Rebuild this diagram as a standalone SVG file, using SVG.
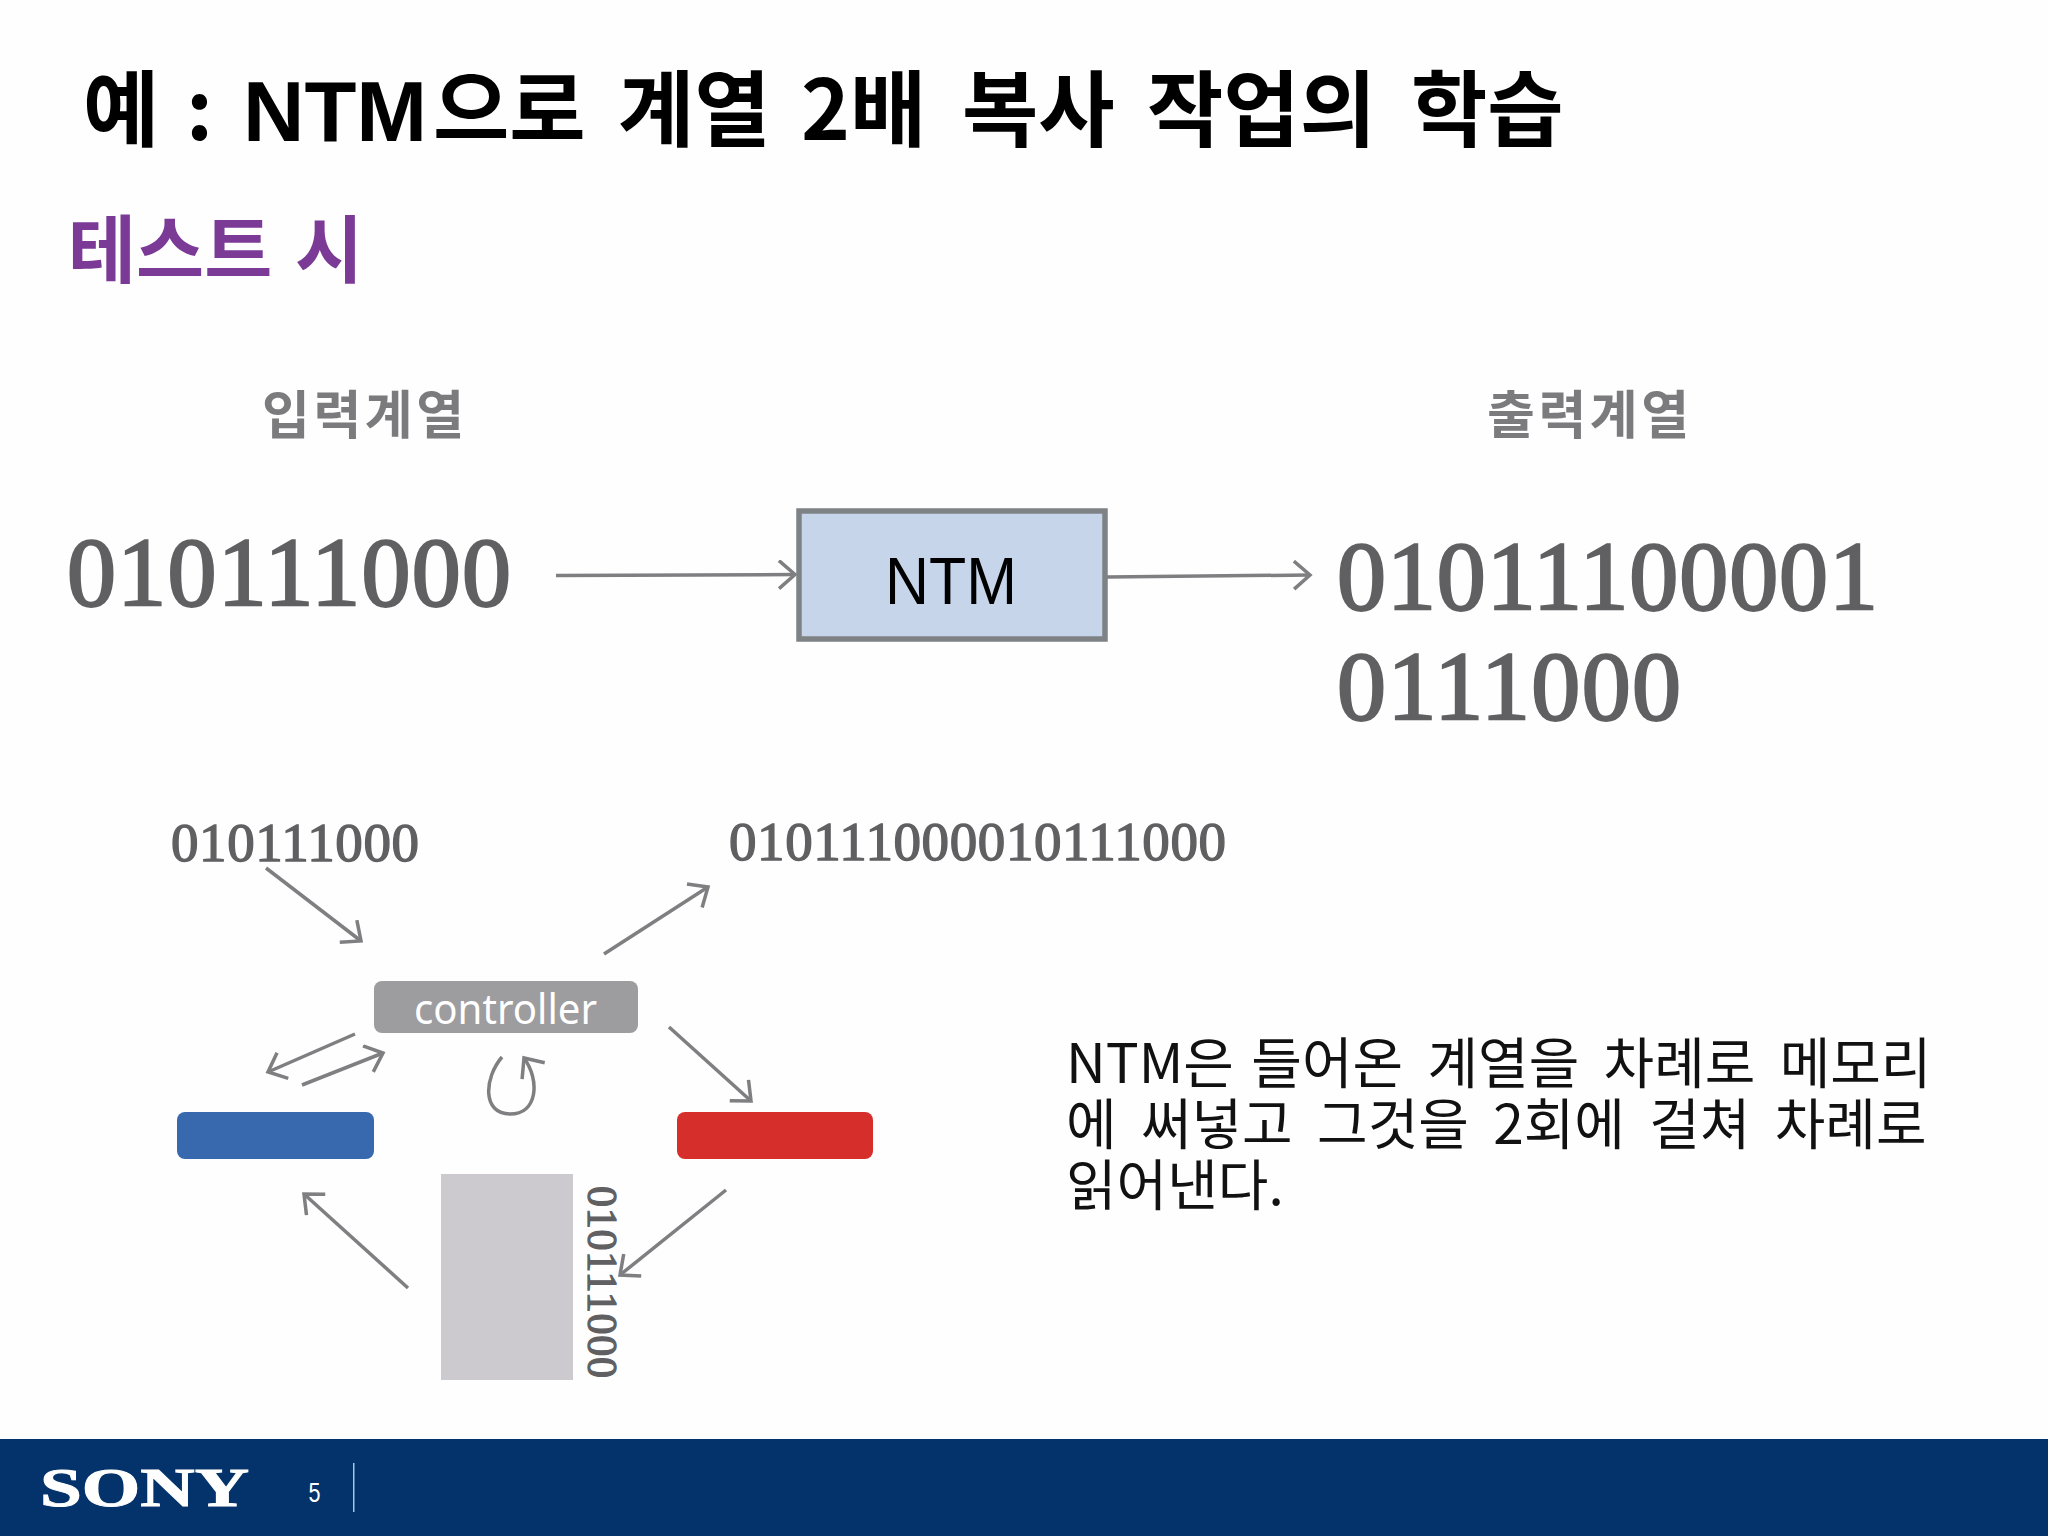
<svg xmlns="http://www.w3.org/2000/svg" width="2048" height="1537" viewBox="0 0 2048 1537">
<style>
.k{font-family:"Noto Sans CJK KR","Noto Sans",sans-serif}
.s{font-family:"Liberation Serif",serif;fill:#606062;stroke:#606062;stroke-width:2.400px}
.big{font-size:98px}
.mid{font-size:55px;stroke-width:1.400px}
.ver{font-size:42px;stroke-width:1.300px}
.lab{font-size:52px;font-weight:700;fill:#7b7b7d}
.body{font-size:55px;fill:#111}
.c{fill:none;stroke:#7f7f82;stroke-width:3.500;marker-end:url(#a)}
</style>
<defs>
<marker id="a" markerUnits="userSpaceOnUse" markerWidth="40" markerHeight="40" refX="20" refY="15" orient="auto">
<path d="M4 1 L20 15 L4 29" fill="none" stroke="#7f7f82" stroke-width="3.500"/>
</marker>
</defs>
<rect width="2048" height="1537" fill="#fefefe"/>
<g id="title">
<text class="k" y="140" font-size="83" font-weight="700" fill="#000"><tspan x="83">예</tspan> <tspan x="186">:</tspan> <tspan x="243" y="141" font-family="Liberation Sans,sans-serif" font-size="85">NTM</tspan><tspan x="433" y="140">으로</tspan> <tspan x="618">계열</tspan> <tspan x="801">2배</tspan> <tspan x="962">복사</tspan> <tspan x="1147">작업의</tspan> <tspan x="1411">학습</tspan></text>
<text class="k" x="68" y="277" font-size="74" font-weight="700" fill="#7b3a96">테스트 <tspan x="295">시</tspan></text>
</g>
<g id="labels">
<text class="k lab" x="262" y="434" textLength="202">입력계열</text>
<text class="k lab" x="1487" y="434" textLength="202">출력계열</text>
<text class="s big" x="67" y="605" textLength="444">010111000</text>
<text class="s big" x="1337" y="609" textLength="541">01011100001</text>
<text class="s big" x="1337" y="719" textLength="344">0111000</text>
<text class="s mid" x="171" y="861" textLength="248">010111000</text>
<text class="s mid" x="729" y="860" textLength="497">010111000010111000</text>
<text class="s ver" transform="translate(588 1186) rotate(90)" textLength="192">010111000</text>
</g>
<g id="ntm">
<rect x="799" y="511" width="306" height="128" fill="#c6d5ea" stroke="#7f8285" stroke-width="5.500"/>
<text x="951" y="604" font-family="Liberation Sans,sans-serif" font-size="66" fill="#000" text-anchor="middle" textLength="132" lengthAdjust="spacingAndGlyphs">NTM</text>
</g>
<g id="controller">
<rect x="374" y="981" width="264" height="52" rx="8" fill="#9d9c9f"/>
<text x="505.500" y="1024" font-family="Noto Sans,sans-serif" font-size="41" fill="#fff" text-anchor="middle" textLength="183" lengthAdjust="spacingAndGlyphs">controller</text>
</g>
<g id="read-head"><rect x="177" y="1112" width="197" height="47" rx="8" fill="#3868ae"/></g>
<g id="write-head"><rect x="677" y="1112" width="196" height="47" rx="8" fill="#d62f2b"/></g>
<g id="memory"><rect x="441" y="1174" width="132" height="206" fill="#cccace"/></g>
<g id="connectors">
<path class="c" d="M556 575.500 L795 574.500"/>
<path class="c" d="M1107 577 L1310 575"/>
<path class="c" d="M266 868 L361 941"/>
<path class="c" d="M604 954 L708 887"/>
<path class="c" d="M355 1034 L268 1072"/>
<path class="c" d="M302 1085 L383 1053"/>
<path class="c" d="M669 1027 L751 1101"/>
<path class="c" d="M726 1190 L620 1275"/>
<path class="c" d="M408 1288 L304 1194"/>
<path class="c" d="M502 1057 C484 1078 482 1114 510 1114 C538 1114 540 1080 524 1058"/>
</g>
<g id="note" class="k body">
<text x="1066" y="1083" word-spacing="12">NTM은 <tspan dx="-7">들어온</tspan> 계열을 차례로 메모리</text>
<text x="1066" y="1144" word-spacing="12">에 써넣고 그것을 2회에 걸쳐 차례로</text>
<text x="1066" y="1205">읽어낸다.</text>
</g>
<g id="footer">
<rect y="1439" width="2048" height="97" fill="#03336a"/>
<text x="40" y="1506" font-family="Liberation Serif,serif" font-weight="700" font-size="54" fill="#fff" stroke="#fff" stroke-width="1" textLength="209" lengthAdjust="spacingAndGlyphs">SONY</text>
<text x="314.500" y="1502" font-family="Liberation Sans,sans-serif" font-size="28" fill="#fff" text-anchor="middle" textLength="12" lengthAdjust="spacingAndGlyphs">5</text>
<rect x="353" y="1463" width="1.500" height="49" fill="#a9c4dc"/>
</g>
</svg>
